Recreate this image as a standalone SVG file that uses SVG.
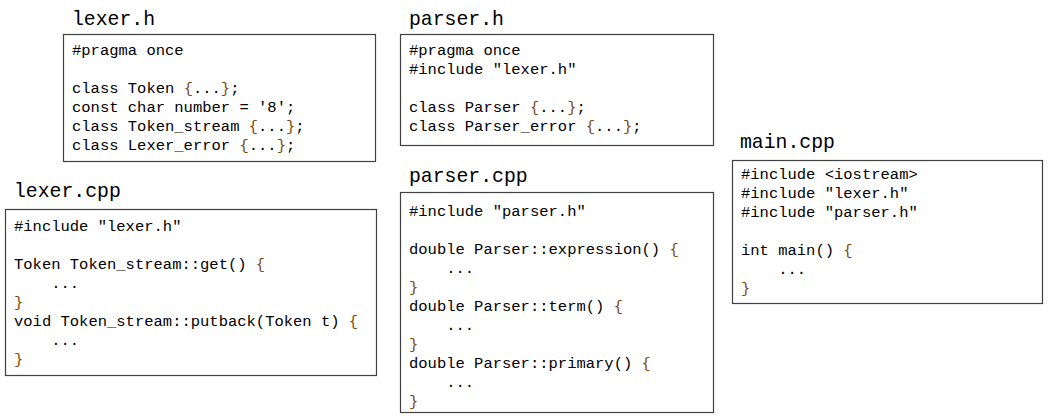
<svg xmlns="http://www.w3.org/2000/svg" width="1048" height="419" viewBox="0 0 1048 419" font-family="'Liberation Mono','Courier New','DejaVu Sans Mono',monospace">
<style>
.box{fill:#fff;stroke:#404040;stroke-width:1.2}
.t{font-family:'Liberation Mono','Courier New','DejaVu Sans Mono',monospace;font-size:19.8px;fill:#000}
.c{font-family:'Liberation Mono','Courier New','DejaVu Sans Mono',monospace;font-size:15.5px;fill:#000;white-space:pre}
.b{fill:#7a4a10}
</style>
<rect width="1048" height="419" fill="#fff"/>
<g id="lexer_h">
<text class="t" x="72" y="25">lexer.h</text>
<rect class="box" x="63.5" y="34.5" width="312" height="127"/>
<text class="c" x="72" y="55">#pragma once</text>
<text class="c" x="72" y="93">class Token <tspan class="b">{</tspan>...<tspan class="b">}</tspan>;</text>
<text class="c" x="72" y="112">const char number = '8';</text>
<text class="c" x="72" y="131">class Token_stream <tspan class="b">{</tspan>...<tspan class="b">}</tspan>;</text>
<text class="c" x="72" y="150">class Lexer_error <tspan class="b">{</tspan>...<tspan class="b">}</tspan>;</text>
</g>
<g id="lexer_cpp">
<text class="t" x="14" y="197">lexer.cpp</text>
<rect class="box" x="5.5" y="209.5" width="371" height="166"/>
<text class="c" x="14" y="231">#include "lexer.h"</text>
<text class="c" x="14" y="269">Token Token_stream::get() <tspan class="b">{</tspan></text>
<text class="c" x="14" y="288">    ...</text>
<text class="c" x="14" y="307"><tspan class="b">}</tspan></text>
<text class="c" x="14" y="326">void Token_stream::putback(Token t) <tspan class="b">{</tspan></text>
<text class="c" x="14" y="345">    ...</text>
<text class="c" x="14" y="364"><tspan class="b">}</tspan></text>
</g>
<g id="parser_h">
<text class="t" x="409" y="25">parser.h</text>
<rect class="box" x="400.5" y="34.5" width="313" height="111"/>
<text class="c" x="409" y="55">#pragma once</text>
<text class="c" x="409" y="74">#include "lexer.h"</text>
<text class="c" x="409" y="112">class Parser <tspan class="b">{</tspan>...<tspan class="b">}</tspan>;</text>
<text class="c" x="409" y="131">class Parser_error <tspan class="b">{</tspan>...<tspan class="b">}</tspan>;</text>
</g>
<g id="parser_cpp">
<text class="t" x="409" y="182">parser.cpp</text>
<rect class="box" x="400.5" y="192.5" width="313" height="220"/>
<text class="c" x="409" y="216">#include "parser.h"</text>
<text class="c" x="409" y="254">double Parser::expression() <tspan class="b">{</tspan></text>
<text class="c" x="409" y="273">    ...</text>
<text class="c" x="409" y="292"><tspan class="b">}</tspan></text>
<text class="c" x="409" y="311">double Parser::term() <tspan class="b">{</tspan></text>
<text class="c" x="409" y="330">    ...</text>
<text class="c" x="409" y="349"><tspan class="b">}</tspan></text>
<text class="c" x="409" y="368">double Parser::primary() <tspan class="b">{</tspan></text>
<text class="c" x="409" y="387">    ...</text>
<text class="c" x="409" y="406"><tspan class="b">}</tspan></text>
</g>
<g id="main_cpp">
<text class="t" x="740" y="148">main.cpp</text>
<rect class="box" x="732.5" y="160.5" width="310" height="143"/>
<text class="c" x="741" y="179">#include &lt;iostream&gt;</text>
<text class="c" x="741" y="198">#include "lexer.h"</text>
<text class="c" x="741" y="217">#include "parser.h"</text>
<text class="c" x="741" y="255">int main() <tspan class="b">{</tspan></text>
<text class="c" x="741" y="274">    ...</text>
<text class="c" x="741" y="293"><tspan class="b">}</tspan></text>
</g>
<g id="connectors"/>
</svg>
